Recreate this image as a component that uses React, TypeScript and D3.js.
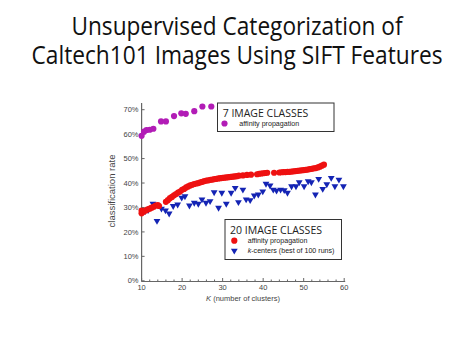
import React from "react";
import * as d3 from "d3";

const titleLines = ["Unsupervised Categorization of", "Caltech101 Images Using SIFT Features"];

// 7 image classes, affinity propagation: [K, rate %]
const ap7K = [10, 10.6, 11.2, 12, 12.9, 14.8, 16, 18, 19.8, 20.9, 23, 25, 27.2];
const ap7V = [59.3, 61, 61.7, 61.8, 62.2, 65.2, 65.2, 67.4, 68.5, 68.3, 69.4, 71.3, 71.3];

// 20 image classes, affinity propagation
const ap20K = [10, 10, 10.5, 11, 11.5, 12, 12.5, 13, 13.5, 14, 14.3,
  16, 16.5, 17, 17.5, 18, 18.5, 19, 19.5, 20, 20.5, 21, 21.5, 22, 22.5, 23, 23.5, 24, 24.5, 25, 25.5,
  26, 26.5, 27, 27.5, 28, 28.5, 29, 29.5, 30, 30.5, 31, 31.5, 32, 32.5, 33, 33.5, 34, 35, 36, 37,
  38.5, 39, 39.5, 40, 40.5, 41, 42.7, 44, 44.5, 45, 45.5, 46, 46.5, 47, 47.5, 48, 48.5, 49, 49.5,
  50, 50.5, 51, 51.5, 52, 52.5, 53, 53.5, 54, 54.5, 55];
const ap20V = [27.6, 28.7, 28.3, 28.8, 29.2, 29.5, 29.9, 30.3, 30.8, 31, 30.6,
  32.3, 33, 33.8, 34.3, 35, 35.5, 36.1, 36.5, 37.2, 37.6, 38.2, 38.6, 39, 39.3, 39.6, 39.8, 40, 40.3, 40.5, 40.8,
  41, 41.1, 41.3, 41.4, 41.6, 41.7, 41.9, 42, 42.1, 42.2, 42.3, 42.4, 42.5, 42.6, 42.7, 42.8, 43, 43.1, 43.3, 43.4,
  43.6, 43.8, 43.9, 44, 44.1, 44.2, 44.2, 44.3, 44.4, 44.5, 44.5, 44.6, 44.6, 44.7, 44.8, 44.9, 45, 45.1, 45.2,
  45.3, 45.4, 45.5, 45.7, 45.8, 46, 46.1, 46.4, 46.7, 47.1, 47.5];

// 20 image classes, k-centers (best of 100 runs)
const kcK = [10.9, 11.6, 12.8, 13.8, 14.9, 15.9, 16.8, 17.8, 18.9, 19.9, 20.7, 21.8, 23, 24, 24.9, 25.9,
  26.9, 27.9, 29, 29.8, 30.9, 32.1, 33.1, 33.9, 35, 35.8, 36.8, 37.8, 38.8, 39.9, 40.7, 41.7, 42.5, 43.3,
  44.3, 45.2, 46, 47, 48.1, 48.9, 50.1, 51.1, 51.9, 52.9, 53.7, 54.7, 55.7, 56.8, 57.7, 58.7, 59.8];
const kcV = [28.5, 28.9, 31.5, 24.5, 29.5, 28.8, 27.5, 30.6, 31.2, 34, 34.6, 30.8, 31.9, 31.5, 33.3, 31.9,
  32.6, 36.2, 29.9, 36, 31.5, 36, 38, 32.2, 37.3, 33.3, 33, 34.9, 35.3, 36.6, 39.7, 39, 37.3, 36.9,
  37.3, 37.1, 36, 38.7, 38.7, 40.3, 38.7, 40.7, 40.3, 35.3, 41.7, 37.6, 39.5, 42.1, 38.7, 41.4, 38.7];

const yTicks = [0, 10, 20, 30, 40, 50, 60, 70];
const xTicks = [10, 20, 30, 40, 50, 60];
const xMinor = d3.range(10, 61, 2);

const MAG = "#b21cb6";
const RED = "#ee1111";
const BLUE = "#1424b4";
const AX = "#666";

export default function App() {
  const x = d3.scaleLinear().domain([10, 60]).range([141.6, 344.2]);
  const y = d3.scaleLinear().domain([0, 70]).range([280.8, 109.7]);
  const tri = d3.symbol().type(d3.symbolTriangle).size(20)()!;
  const sf = "Liberation Sans, Arial, sans-serif";
  const tf = "'Open Sans', Lato, sans-serif";
  const R = 3.1;
  return (
    <svg width={474} height={355} style={{ position: "absolute", left: 0, top: 0, background: "#fff" }}>
      <rect width={474} height={355} fill="#fff" />
      <text x={237} y={35} textAnchor="middle" fontFamily={tf} fontSize={25} fill="#111"
        textLength={331} lengthAdjust="spacingAndGlyphs" style={{ fontVariantLigatures: "none" }}>{titleLines[0]}</text>
      <text x={237} y={63.5} textAnchor="middle" fontFamily={tf} fontSize={25} fill="#111"
        textLength={411} lengthAdjust="spacingAndGlyphs" style={{ fontVariantLigatures: "none" }}>{titleLines[1]}</text>

      {/* axes */}
      <line x1={x(10)} x2={x(10)} y1={103} y2={281.5} stroke={AX} strokeWidth={1.2} />
      <line x1={x(10)} x2={x(60) + 1} y1={281.5} y2={281.5} stroke={AX} strokeWidth={1.2} />
      {yTicks.map((t) => (
        <g key={"y" + t}>
          <line x1={x(10)} x2={x(10) + 3} y1={y(t)} y2={y(t)} stroke={AX} />
          <text x={138.5} y={y(t) + 2.6} textAnchor="end" fontFamily={sf} fontSize={7.5} fill="#444">{t + "%"}</text>
        </g>
      ))}
      {xMinor.map((t) => (
        <line key={"xm" + t} x1={x(t)} x2={x(t)} y1={281.5} y2={t % 10 === 0 ? 278 : 279.5} stroke={AX} />
      ))}
      {xTicks.map((t) => (
        <text key={"x" + t} x={x(t)} y={289.5} textAnchor="middle" fontFamily={sf} fontSize={7.5} fill="#444">{t}</text>
      ))}
      <text x={243} y={301} textAnchor="middle" fontFamily={sf} fontSize={7.5} fill="#444">
        <tspan fontStyle="italic">K</tspan> (number of clusters)
      </text>
      <text transform="translate(115,191) rotate(-90)" textAnchor="middle" fontFamily={sf} fontSize={9.5} fill="#444">
        classification rate
      </text>

      {/* data */}
      {ap7K.map((k, i) => (
        <circle key={"m" + i} cx={x(k)} cy={y(ap7V[i])} r={R} fill={MAG} />
      ))}
      {kcK.map((k, i) => (
        <path key={"b" + i} d={tri} transform={`translate(${x(k)},${y(kcV[i])}) rotate(180)`} fill={BLUE} />
      ))}
      {ap20K.map((k, i) => (
        <circle key={"r" + i} cx={x(k)} cy={y(ap20V[i])} r={R} fill={RED} />
      ))}

      {/* legend 1 */}
      <rect x={217.5} y={103} width={116.5} height={28.5} fill="#fff" stroke="#333" strokeWidth={1} />
      <text x={222.7} y={117} fontFamily={tf} fontSize={11} fill="#222" textLength={85.6} lengthAdjust="spacingAndGlyphs">7 IMAGE CLASSES</text>
      <circle cx={224.5} cy={123.5} r={R} fill={MAG} />
      <text x={239.3} y={125.8} fontFamily={sf} fontSize={7.1} fill="#222">affinity propagation</text>

      {/* legend 2 */}
      <rect x={225} y={219.5} width={116.5} height={40} fill="#fff" stroke="#333" strokeWidth={1} />
      <text x={230} y={233.5} fontFamily={tf} fontSize={11.5} fill="#222" textLength={92} lengthAdjust="spacingAndGlyphs">20 IMAGE CLASSES</text>
      <circle cx={234.3} cy={240.7} r={R} fill={RED} />
      <text x={247.7} y={243.2} fontFamily={sf} fontSize={7.1} fill="#222">affinity propagation</text>
      <path d={tri} transform={`translate(234.3,250.7) rotate(180)`} fill={BLUE} />
      <text x={247.7} y={253.3} fontFamily={sf} fontSize={7.1} fill="#222">
        <tspan fontStyle="italic">k</tspan>-centers (best of 100 runs)
      </text>
    </svg>
  );
}
